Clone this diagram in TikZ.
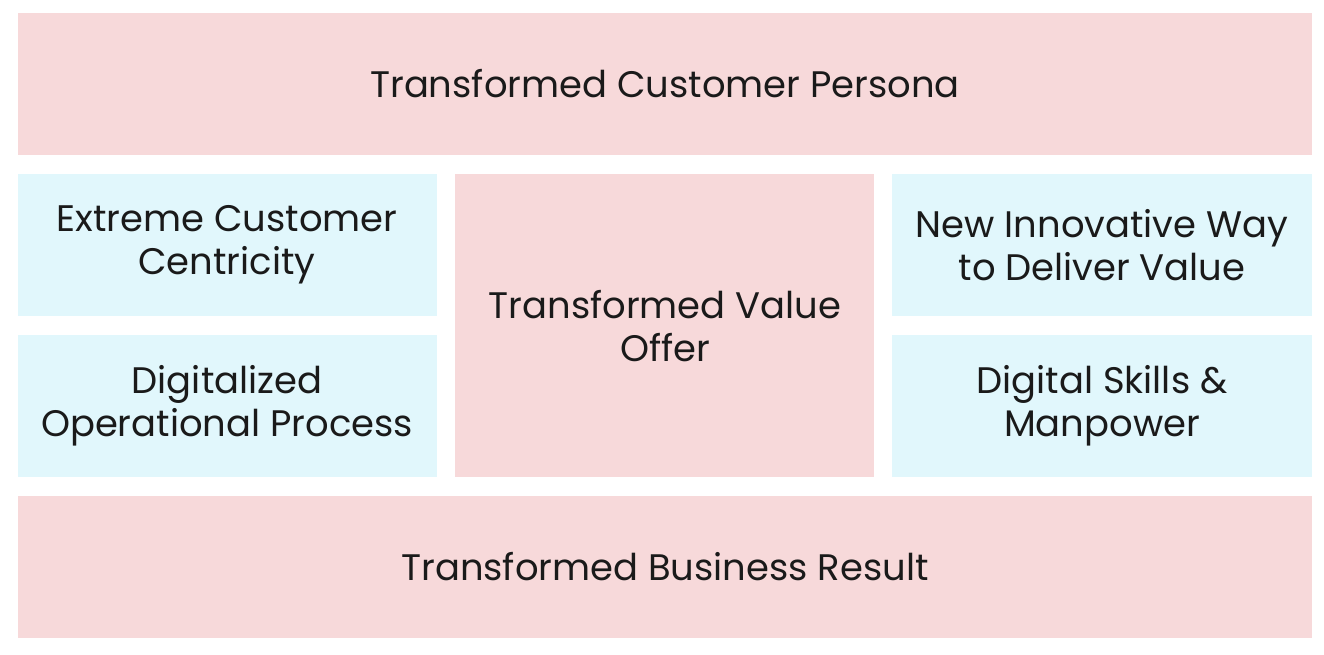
\documentclass[tikz,border=0pt]{standalone}
\usepackage{fontspec}
\setmainfont{Poppins}
\definecolor{pinkbox}{HTML}{F7D9DA}
\definecolor{cyanbox}{HTML}{E1F7FC}
\definecolor{txt}{HTML}{1A1A1A}
\begin{document}
\begin{tikzpicture}[x=0.01cm,y=-0.01cm,
  box/.style={inner sep=0pt,text=txt,align=center,font=\fontsize{10.5}{12.2}\selectfont}]
\useasboundingbox (0,0) rectangle (1324,654);
\fill[pinkbox] (18,13) rectangle (1312,155);
\fill[cyanbox] (18,174) rectangle (437,316);
\fill[cyanbox] (18,335) rectangle (437,477);
\fill[pinkbox] (455,174) rectangle (874,477);
\fill[cyanbox] (892,174) rectangle (1312,316);
\fill[cyanbox] (892,335) rectangle (1312,477);
\fill[pinkbox] (18,496) rectangle (1312,638);
\node[box] (top) at (665,84) {Transformed Customer Persona};
\node[box] (ecc) at (227,245) {Extreme Customer\\Centricity};
\node[box] (dop) at (227,406) {Digitalized\\Operational Process};
\node[box] (tvo) at (665,326) {Transformed Value\\Offer};
\node[box] (niw) at (1102,245) {New Innovative Way\\to Deliver Value};
\node[box] (dsm) at (1102,406) {Digital Skills \&\\Manpower};
\node[box] (tbr) at (665,567) {Transformed Business Result};
\end{tikzpicture}
\end{document}
